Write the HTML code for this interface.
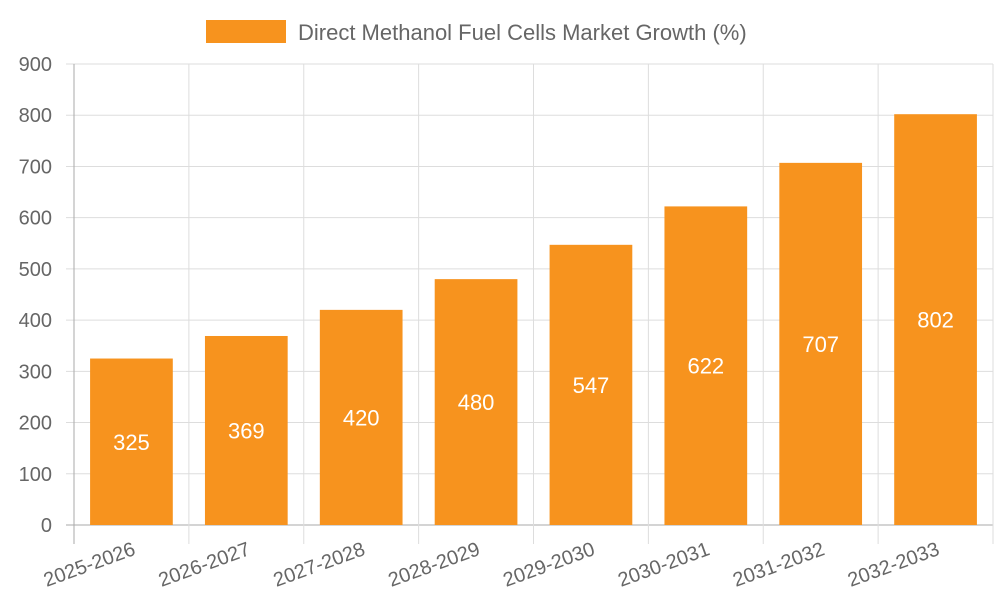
<!DOCTYPE html>
<html><head><meta charset="utf-8"><style>
body{margin:0;background:#fff;}
svg{font-family:"Liberation Sans",sans-serif;}
</style></head><body>
<svg id="c" width="1000" height="600"></svg>
<script>
const categories=["2025-2026","2026-2027","2027-2028","2028-2029","2029-2030","2030-2031","2031-2032","2032-2033"];
const values=[325,369,420,480,547,622,707,802];
const yTicks=[0,100,200,300,400,500,600,700,800,900];
const seriesName="Direct Methanol Fuel Cells Market Growth (%)";
const NS="http://www.w3.org/2000/svg";
const svg=document.getElementById('c');
const L=74,R=993,T=64,B=525,yMax=900;
const bw=(R-L)/categories.length;
const y=v=>B-(v/yMax)*(B-T);
const x=i=>L+bw*i;
function mk(tag,attrs,txt){const e=document.createElementNS(NS,tag);for(const k in attrs)e.setAttribute(k,attrs[k]);if(txt!==undefined)e.textContent=txt;svg.appendChild(e);return e;}
// legend
let e=mk('rect',{x:206,y:20,width:80,height:23,fill:'#f7931e'});


e=mk('text',{x:298,y:40,'font-size':22,fill:'#666'},seriesName);


// horizontal grid + y labels
yTicks.forEach(t=>{
 e=mk('line',{x1:L-8,x2:R,y1:y(t),y2:y(t),stroke:t===0?'#aaa':'#ddd','stroke-width':1});
 
 
 e=mk('text',{x:52,y:y(t)+7,'font-size':20,fill:'#666','text-anchor':'end'},t);
 
 
});
// vertical grid
for(let i=0;i<=categories.length;i++){
 e=mk('line',{x1:x(i),x2:x(i),y1:T,y2:B+19,stroke:i===0?'#aaa':'#ddd','stroke-width':1});
 
 
}
// bars
values.forEach((v,i)=>{
 const bx=x(i)+bw*0.14, w=bw*0.72;
 e=mk('rect',{x:bx,y:y(v),width:w,height:B-y(v),fill:'#f7931e'});
 
 
 e=mk('text',{x:x(i)+bw/2,y:(y(v)+B)/2+8,'font-size':22,fill:'#fff','text-anchor':'middle'},v);
 
 
 const cx=x(i)+bw/2+1, cy=B+30;
 e=mk('text',{x:cx,y:cy,'font-size':20,fill:'#666','text-anchor':'end',transform:`rotate(-20 ${cx} ${cy-12})`},categories[i]);
 
 
});
</script>
</body></html>
